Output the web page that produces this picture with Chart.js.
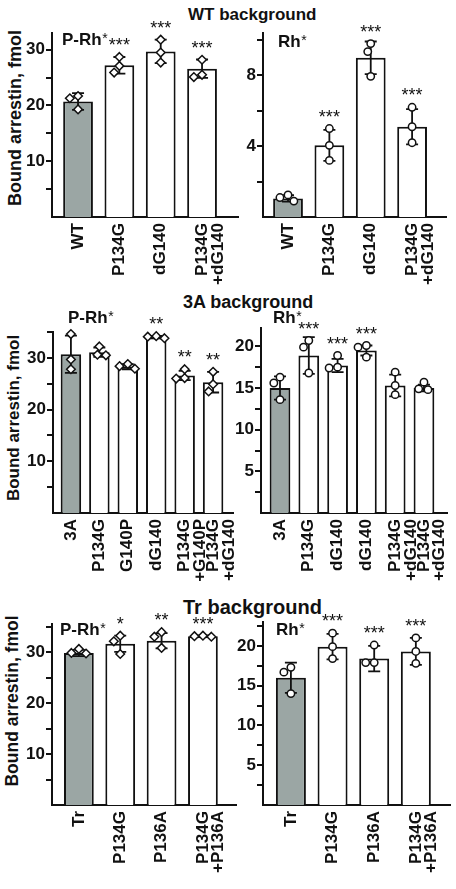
<!DOCTYPE html>
<html><head><meta charset="utf-8">
<script src="https://cdn.jsdelivr.net/npm/chart.js@4/dist/chart.umd.min.js"></script>
<style>
html,body{margin:0;padding:0;background:#fff;overflow:hidden}
#wrap{position:relative;width:456px;height:889px;overflow:hidden;font-family:"Liberation Sans",Arial,sans-serif;color:#111}
canvas{position:absolute}
.ttl{position:absolute;font-weight:bold;white-space:nowrap;line-height:1}
.yt{position:absolute;font-weight:bold;white-space:nowrap;line-height:1;transform:translate(-50%,-50%) rotate(-90deg)}
</style></head>
<body><div id="wrap">
<div class="ttl" style="left:188px;top:6px;font-size:17px">WT background</div>
<div class="ttl" style="left:183px;top:293px;font-size:18px">3A background</div>
<div class="ttl" style="left:183px;top:597px;font-size:20px">Tr background</div>
<div class="yt" style="left:15px;top:118px;font-size:18px">Bound arrestin, fmol</div>
<div class="yt" style="left:13px;top:418px;font-size:17px">Bound arrestin, fmol</div>
<div class="yt" style="left:13px;top:701px;font-size:17.5px">Bound arrestin, fmol</div>
<canvas id="c1" width="263" height="290" style="left:0;top:0"></canvas>
<canvas id="c2" width="248" height="290" style="left:228px;top:0"></canvas>
<canvas id="c3" width="258" height="300" style="left:0;top:290px"></canvas>
<canvas id="c4" width="248" height="300" style="left:228px;top:290px"></canvas>
<canvas id="c5" width="261" height="299" style="left:0;top:590px"></canvas>
<canvas id="c6" width="250" height="299" style="left:228px;top:590px"></canvas>
</div>
<script>
// ---------- DATA ----------
// WT background
const wtCats = ['WT', 'P134G', 'dG140', ['P134G', '+dG140']];
const wtPRhMean = [20.7, 27.2, 29.7, 26.6];
const wtPRhSD = [1.5, 1.5, 2.1, 1.65];
const wtPRhPts = [[21.7, 21.3, 19.3], [28.7, 27.1, 25.9], [31.8, 29.5, 27.7], [28.2, 25.1, 25.5]];
const wtPRhStars = ['', '***', '***', '***'];
const wtRhMean = [1.05, 4.05, 9.0, 5.1];
const wtRhSD = [0.18, 0.88, 0.92, 1.0];
const wtRhPts = [[0.9, 1.25, 1.1], [5.0, 4.05, 3.2], [9.8, 9.35, 7.95], [6.2, 5.1, 4.2]];
const wtRhStars = ['', '***', '***', '***'];

// 3A background
const a3PRhCats = ['3A', 'P134G', 'G140P', 'dG140', ['P134G', '+G140P'], ['P134G', '+dG140']];
const a3PRhMean = [30.7, 31.1, 28.3, 34.0, 26.6, 25.3];
const a3PRhSD = [3.6, 0.9, 0.5, 0.25, 0.9, 2.0];
const a3PRhPts = [[34.6, 29.7, 27.8], [32.2, 30.5, 30.6], [28.8, 27.9, 28.4], [34.2, 33.8, 34.1], [27.8, 26.0, 26.1], [27.3, 24.9, 23.5]];
const a3PRhStars = ['', '', '', '**', '**', '**'];
const a3RhCats = ['3A', 'P134G', 'dG140', 'dG140', ['P134G', '+dG140'], ['P134G', '+dG140']];
const a3RhMean = [15.0, 18.9, 17.7, 19.5, 15.3, 15.0];
const a3RhSD = [1.4, 2.2, 0.8, 0.6, 1.3, 0.4];
const a3RhPts = [[16.3, 15.6, 13.6], [20.7, 19.9, 16.8], [18.9, 17.4, 17.5], [20.1, 19.9, 18.7], [16.9, 15.3, 14.2], [15.7, 14.8, 14.9]];
const a3RhStars = ['', '***', '***', '***', '', ''];

// Tr background
const trCats = ['Tr', 'P134G', 'P136A', ['P134G', '+P136A']];
const trPRhMean = [29.9, 31.7, 32.3, 33.2];
const trPRhSD = [0.6, 1.6, 1.5, 0.15];
const trPRhPts = [[29.8, 30.7, 29.9], [33.3, 32.2, 29.7], [34.0, 33.1, 30.9], [33.1, 33.3, 33.2]];
const trPRhStars = ['', '*', '**', '***'];
const trRhMean = [16.0, 19.9, 18.4, 19.3];
const trRhSD = [1.9, 1.6, 1.6, 1.7];
const trRhPts = [[16.7, 14.0, 17.3], [21.6, 19.9, 18.4], [20.1, 17.9, 17.9], [21.0, 19.3, 17.8]];
const trRhStars = ['', '***', '***', '***'];

// Y tick values (all tick marks) and labelled ones
const ticksPRhWT = [5, 10, 15, 20, 25, 30];
const ticksRhWT = [2, 4, 6, 8, 10];
const ticksPRh = [5, 10, 15, 20, 25, 30, 35];
const ticksRh3A = [2.5, 5, 7.5, 10, 12.5, 15, 17.5, 20];
const ticksRhTr = [2.5, 5, 7.5, 10, 12.5, 15, 17.5, 20, 22.5];
const labelsPRh = [10, 20, 30];
const labelsRhWT = [4, 8];
const labelsRh = [5, 10, 15, 20];

// ---------- RENDER ----------
Chart.defaults.font.family = '"Liberation Sans", Arial, sans-serif';
const INK = '#111';
const GRAY = '#9ba6a4';

function swarm(ys, D) {
  const order = ys.map((y, i) => i).sort((a, b) => ys[a] - ys[b]);
  const placed = [];
  order.forEach(i => {
    const yv = ys[i];
    const cands = [0];
    const ints = [];
    placed.forEach(p => {
      const dy = Math.abs(p.y - yv);
      if (dy < D) {
        const h = Math.sqrt(D * D - dy * dy);
        ints.push([p.dx - h, p.dx + h]);
        cands.push(p.dx - h, p.dx + h);
      }
    });
    cands.sort((a, b) => Math.abs(a) - Math.abs(b));
    const dx = cands.find(c => ints.every(([a, b]) => c <= a + 1e-6 || c >= b - 1e-6));
    placed.push({ y: yv, dx: dx });
  });
  return placed;
}

function drawMarker(ctx, x, y, shape) {
  ctx.beginPath();
  if (shape === 'diamond') {
    const h = 4.3;
    ctx.moveTo(x, y - h); ctx.lineTo(x + h, y); ctx.lineTo(x, y + h); ctx.lineTo(x - h, y); ctx.closePath();
  } else {
    ctx.arc(x, y, 3.7, 0, Math.PI * 2);
  }
  ctx.fillStyle = '#fff';
  ctx.fill();
  ctx.lineWidth = 1.5;
  ctx.strokeStyle = INK;
  ctx.stroke();
}

const overlay = {
  id: 'overlay',
  afterDatasetsDraw(chart, args, o) {
    const { ctx, chartArea } = chart;
    const xs = chart.scales.x, ys = chart.scales.y;
    ctx.save();
    o.means.forEach((m, i) => {
      const cx = xs.getPixelForValue(i);
      const yt = ys.getPixelForValue(m + o.sds[i]);
      const yb = ys.getPixelForValue(m - o.sds[i]);
      ctx.strokeStyle = INK; ctx.lineWidth = 1.8;
      ctx.beginPath();
      ctx.moveTo(cx, yt); ctx.lineTo(cx, yb);
      ctx.moveTo(cx - 6, yt); ctx.lineTo(cx + 6, yt);
      ctx.moveTo(cx - 6, yb); ctx.lineTo(cx + 6, yb);
      ctx.stroke();
      const py = o.points[i].map(v => ys.getPixelForValue(v));
      swarm(py, 8.5).forEach(p => drawMarker(ctx, cx + p.dx, p.y, o.marker));
      if (o.stars[i]) {
        const top = Math.min(yt, Math.min(...py) - 4);
        ctx.fillStyle = INK;
        ctx.font = '18px "Liberation Sans", Arial, sans-serif';
        ctx.textAlign = 'center';
        ctx.textBaseline = 'alphabetic';
        ctx.fillText(o.stars[i], cx, top - 2);
      }
    });
    if (o.label) {
      const lx = chartArea.left + o.label.dx, ly = chartArea.top + o.label.dy;
      ctx.fillStyle = INK;
      ctx.font = 'bold 17px "Liberation Sans", Arial, sans-serif';
      ctx.textAlign = 'left';
      ctx.textBaseline = 'middle';
      ctx.fillText(o.label.text, lx, ly);
      const w = ctx.measureText(o.label.text).width;
      ctx.font = '14px "Liberation Sans", Arial, sans-serif';
      ctx.fillText('*', lx + w + 0.5, ly - 1);
    }
    ctx.restore();
  }
};

function panel(id, c) {
  new Chart(document.getElementById(id), {
    type: 'bar',
    data: {
      datasets: [{
        data: c.means.map((m, i) => ({ x: i, y: m })),
        backgroundColor: c.means.map((m, i) => i === 0 ? GRAY : '#fff'),
        borderColor: INK,
        borderWidth: 2,
        categoryPercentage: 0.72,
        barPercentage: 1
      }]
    },
    options: {
      responsive: false,
      animation: false,
      events: [],
      layout: { padding: { left: 0, top: c.padTop, right: c.padRight, bottom: 0 } },
      plugins: {
        legend: { display: false },
        tooltip: { enabled: false },
        overlay: { means: c.means, sds: c.sds, points: c.points, stars: c.stars, marker: c.marker, label: c.label }
      },
      scales: {
        x: {
          type: 'linear', min: c.xMin, max: c.xMax, offset: false,
          afterBuildTicks: s => { s.ticks = c.cats.map((_, i) => ({ value: i })); },
          afterFit: s => { s.height = c.xH; },
          ticks: {
            callback: v => c.cats[v],
            minRotation: 90, maxRotation: 90, autoSkip: false, padding: 6, color: INK,
            font: { size: 17, weight: 'bold', lineHeight: 0.93 }
          },
          grid: { display: false, drawTicks: false, tickLength: 0 },
          border: { display: true, color: INK, width: 2 }
        },
        y: {
          min: 0, max: c.yMax,
          afterBuildTicks: s => { s.ticks = c.yTicks.map(v => ({ value: v })); },
          afterFit: s => { s.width = c.yW; },
          ticks: {
            callback: v => c.yLabels.includes(v) ? String(v) : '',
            autoSkip: false, padding: 1, color: INK,
            font: { size: 17, weight: 'bold' }
          },
          grid: { display: true, drawOnChartArea: false, drawTicks: true, tickLength: 6, color: INK, lineWidth: 2 },
          border: { display: true, color: INK, width: 2 }
        }
      }
    },
    plugins: [overlay]
  });
}

panel('c1', { cats: wtCats, means: wtPRhMean, sds: wtPRhSD, points: wtPRhPts, stars: wtPRhStars, marker: 'diamond',
  label: { text: 'P-Rh', dx: 10, dy: 7 }, yMax: 33, yTicks: ticksPRhWT, yLabels: labelsPRh,
  xMin: -0.63, xMax: 3.87, padTop: 33, padRight: 25, xH: 73, yW: 52 });
panel('c2', { cats: wtCats, means: wtRhMean, sds: wtRhSD, points: wtRhPts, stars: wtRhStars, marker: 'circle',
  label: { text: 'Rh', dx: 15, dy: 9 }, yMax: 10.4, yTicks: ticksRhWT, yLabels: labelsRhWT,
  xMin: -0.605, xMax: 3.82, padTop: 33, padRight: 30, xH: 73, yW: 35 });
panel('c3', { cats: a3PRhCats, means: a3PRhMean, sds: a3PRhSD, points: a3PRhPts, stars: a3PRhStars, marker: 'diamond',
  label: { text: 'P-Rh', dx: 15, dy: -14 }, yMax: 35, yTicks: ticksPRh, yLabels: labelsPRh,
  xMin: -0.63, xMax: 5.7, padTop: 42, padRight: 25, xH: 77, yW: 53 });
panel('c4', { cats: a3RhCats, means: a3RhMean, sds: a3RhSD, points: a3RhPts, stars: a3RhStars, marker: 'circle',
  label: { text: 'Rh', dx: 12, dy: -10 }, yMax: 22.2, yTicks: ticksRh3A, yLabels: labelsRh,
  xMin: -0.66, xMax: 5.8, padTop: 38, padRight: 29, xH: 77, yW: 33 });
panel('c5', { cats: trCats, means: trPRhMean, sds: trPRhSD, points: trPRhPts, stars: trPRhStars, marker: 'diamond',
  label: { text: 'P-Rh', dx: 8, dy: 6 }, yMax: 35.6, yTicks: ticksPRh, yLabels: labelsPRh,
  xMin: -0.65, xMax: 3.8, padTop: 34, padRight: 25, xH: 84, yW: 52 });
panel('c6', { cats: trCats, means: trRhMean, sds: trRhSD, points: trRhPts, stars: trRhStars, marker: 'circle',
  label: { text: 'Rh', dx: 13, dy: 8 }, yMax: 23, yTicks: ticksRhTr, yLabels: labelsRh,
  xMin: -0.67, xMax: 3.82, padTop: 32, padRight: 28, xH: 84, yW: 35 });
</script>
</body></html>
